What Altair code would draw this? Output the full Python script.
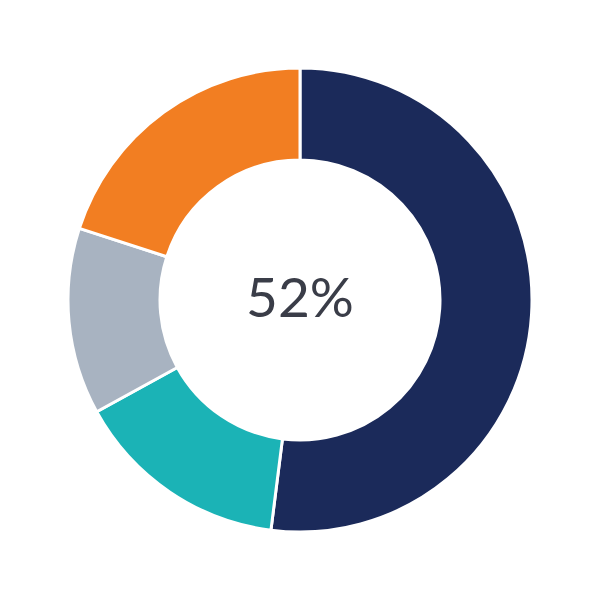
import altair as alt
import pandas as pd

categories = ["A", "B", "C", "D"]
values = [52, 15, 13, 20]
colors = ["#1b2a5a", "#1bb3b6", "#a8b3c1", "#f27e22"]
order = [0, 1, 2, 3]
center_label = "52%"

df = pd.DataFrame({"category": categories, "value": values, "order": order})

arcs = alt.Chart(df).mark_arc(
    outerRadius=232, innerRadius=140, stroke="white", strokeWidth=3
).encode(
    theta=alt.Theta("value:Q", stack=True),
    order=alt.Order("order:Q"),
    color=alt.Color("category:N", scale=alt.Scale(domain=categories, range=colors), legend=None),
)

text = alt.Chart(pd.DataFrame({"t": [center_label]})).mark_text(
    font="Lato", fontSize=55, color="#3a3d48", baseline="middle", align="center", fontWeight=400
).encode(text="t:N")

chart = alt.layer(arcs, text).properties(
    width=584, height=584, autosize=alt.AutoSizeParams(type="none"), padding=0
).configure_view(stroke=None)

chart.save("out.html", embed_options={"renderer": "svg", "actions": False})
